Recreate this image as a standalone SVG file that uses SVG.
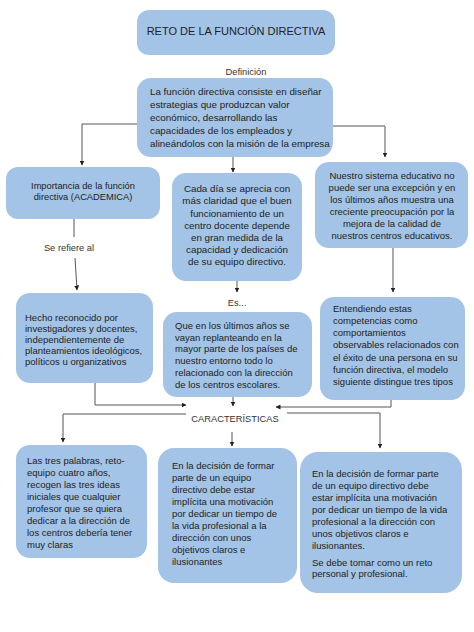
<svg xmlns="http://www.w3.org/2000/svg" width="474" height="632" viewBox="0 0 474 632">
<defs>
<marker id="ah" viewBox="0 0 10 10" refX="9" refY="5" markerWidth="5" markerHeight="5" orient="auto" markerUnits="userSpaceOnUse">
<path d="M0,0 L10,5 L0,10 z" fill="#222"/>
</marker>
<style>
.box{fill:#a3c4e6;stroke:none}
.t{font-family:"Liberation Sans",Arial,sans-serif;font-size:9.5px;fill:#222}
.c{text-anchor:middle}
.lbl{font-family:"Liberation Sans",Arial,sans-serif;font-size:9.3px;fill:#333;text-anchor:middle}
.ttl{font-family:"Liberation Sans",Arial,sans-serif;font-size:11px;fill:#222;text-anchor:middle}
.ln{fill:none;stroke:#555;stroke-width:1}
.ar{fill:none;stroke:#555;stroke-width:1;marker-end:url(#ah)}
</style>
</defs>
<rect width="474" height="632" fill="#fff"/>

<g id="connectors">
<polyline class="ar" points="137,124 82,124 82,165"/>
<polyline class="ar" points="333,126 385,126 385,157"/>
<line class="ar" x1="233" y1="157" x2="233" y2="172"/>
<line class="ln" x1="74" y1="219" x2="74" y2="237"/>
<line class="ar" x1="75" y1="258" x2="77" y2="290"/>
<line class="ar" x1="237" y1="281" x2="237" y2="292"/>
<line class="ar" x1="393" y1="248" x2="393" y2="292"/>
<polyline class="ar" points="95,383 95,405 186,405"/>
<line class="ar" x1="233" y1="397" x2="233" y2="406"/>
<polyline class="ar" points="391,400 391,407 276,407"/>
<polyline class="ar" points="186,414 63,414 63,442"/>
<line class="ar" x1="232" y1="432" x2="232" y2="446"/>
<polyline class="ar" points="287,413 380,413 380,448"/>
</g>

<g id="title">
<rect class="box" x="137" y="10" width="198" height="45" rx="12"/>
<text class="ttl" x="236" y="35">RETO DE LA FUNCIÓN DIRECTIVA</text>
</g>

<g id="lbl-definicion"><text class="lbl" x="246" y="75">Definición</text></g>

<g id="definicion">
<rect class="box" x="137" y="78" width="196" height="79" rx="14"/>
<text class="t" x="150" y="95" style="font-size:9.8px">La función directiva consiste en diseñar</text>
<text class="t" x="150" y="108" style="font-size:9.8px">estrategias que produzcan valor</text>
<text class="t" x="150" y="121" style="font-size:9.8px">económico, desarrollando las</text>
<text class="t" x="150" y="134" style="font-size:9.8px">capacidades de los empleados y</text>
<text class="t" x="150" y="147" style="font-size:9.8px">alineándolos con la misión de la empresa</text>
</g>

<g id="importancia">
<rect class="box" x="6" y="167" width="154" height="52" rx="12"/>
<text class="t c" x="83" y="188.5" style="font-size:9.3px">Importancia de la función</text>
<text class="t c" x="83" y="200" style="font-size:9.3px">directiva (ACADEMICA)</text>
</g>

<g id="lbl-serefiere"><text class="lbl" x="69" y="251">Se refiere al</text></g>

<g id="cada-dia">
<rect class="box" x="172" y="173" width="130" height="108" rx="14"/>
<text class="t c" x="237" y="191.5" style="font-size:9.8px">Cada día se aprecia con</text>
<text class="t c" x="237" y="204" style="font-size:9.8px">más claridad que el buen</text>
<text class="t c" x="237" y="216.5" style="font-size:9.8px">funcionamiento de un</text>
<text class="t c" x="237" y="228.5" style="font-size:9.8px">centro docente depende</text>
<text class="t c" x="237" y="240.5" style="font-size:9.8px">en gran medida de la</text>
<text class="t c" x="237" y="252.5" style="font-size:9.8px">capacidad y dedicación</text>
<text class="t c" x="237" y="264.5" style="font-size:9.8px">de su equipo directivo.</text>
</g>

<g id="nuestro">
<rect class="box" x="315" y="162" width="153" height="86" rx="14"/>
<text class="t c" x="392" y="178.5">Nuestro sistema educativo no</text>
<text class="t c" x="392" y="190.5">puede ser una excepción y en</text>
<text class="t c" x="392" y="202.5">los últimos años muestra una</text>
<text class="t c" x="392" y="215">creciente preocupación por la</text>
<text class="t c" x="392" y="227">mejora de la calidad de</text>
<text class="t c" x="392" y="239">nuestros centros educativos.</text>
</g>

<g id="lbl-es"><text class="lbl" x="237" y="306">Es...</text></g>

<g id="hecho">
<rect class="box" x="16" y="293" width="137" height="90" rx="14"/>
<text class="t" x="25" y="320.5">Hecho reconocido por</text>
<text class="t" x="25" y="332">investigadores y docentes,</text>
<text class="t" x="25" y="343">independientemente de</text>
<text class="t" x="25" y="354">planteamientos ideológicos,</text>
<text class="t" x="25" y="365">políticos u organizativos</text>
</g>

<g id="que-en">
<rect class="box" x="163" y="312" width="149" height="85" rx="14"/>
<text class="t" x="175" y="328.5">Que en los últimos años se</text>
<text class="t" x="175" y="340.5">vayan replanteando en la</text>
<text class="t" x="175" y="352">mayor parte de los países de</text>
<text class="t" x="175" y="364">nuestro entorno todo lo</text>
<text class="t" x="175" y="376">relacionado con la dirección</text>
<text class="t" x="175" y="388">de los centros escolares.</text>
</g>

<g id="entendiendo">
<rect class="box" x="320" y="297" width="145" height="103" rx="14"/>
<text class="t" x="333" y="311.5">Entendiendo estas</text>
<text class="t" x="333" y="323.5">competencias como</text>
<text class="t" x="333" y="336">comportamientos</text>
<text class="t" x="333" y="348">observables relacionados con</text>
<text class="t" x="333" y="360.5">el éxito de una persona en su</text>
<text class="t" x="333" y="373">función directiva, el modelo</text>
<text class="t" x="333" y="385">siguiente distingue tres tipos</text>
</g>

<g id="lbl-caracteristicas"><text class="lbl" x="235" y="421.5">CARACTERÍSTICAS</text></g>

<g id="las-tres">
<rect class="box" x="16" y="445" width="131" height="113" rx="14"/>
<text class="t" x="27" y="463.5">Las tres palabras, reto-</text>
<text class="t" x="27" y="475.5">equipo cuatro años,</text>
<text class="t" x="27" y="487.5">recogen las tres ideas</text>
<text class="t" x="27" y="500">iniciales que cualquier</text>
<text class="t" x="27" y="512">profesor que se quiera</text>
<text class="t" x="27" y="524">dedicar a la dirección de</text>
<text class="t" x="27" y="536">los centros debería tener</text>
<text class="t" x="27" y="548">muy claras</text>
</g>

<g id="decision1">
<rect class="box" x="158" y="448" width="139" height="135" rx="16"/>
<text class="t" x="172" y="468.5">En la decisión de formar</text>
<text class="t" x="172" y="480.5">parte de un equipo</text>
<text class="t" x="172" y="492.5">directivo debe estar</text>
<text class="t" x="172" y="504.5">implícita una motivación</text>
<text class="t" x="172" y="516.5">por dedicar un tiempo de</text>
<text class="t" x="172" y="528.5">la vida profesional a la</text>
<text class="t" x="172" y="540.5">dirección con unos</text>
<text class="t" x="172" y="552.5">objetivos claros e</text>
<text class="t" x="172" y="564.5">ilusionantes</text>
</g>

<g id="decision2">
<rect class="box" x="300" y="452" width="162" height="141" rx="18"/>
<text class="t" x="312" y="476.5">En la decisión de formar parte</text>
<text class="t" x="312" y="489">de un equipo directivo debe</text>
<text class="t" x="312" y="500.5">estar implícita una motivación</text>
<text class="t" x="312" y="512.5">por dedicar un tiempo de la vida</text>
<text class="t" x="312" y="525">profesional a la dirección con</text>
<text class="t" x="312" y="537">unos objetivos claros e</text>
<text class="t" x="312" y="548.5">ilusionantes.</text>
<text class="t" x="312" y="565.5">Se debe tomar como un reto</text>
<text class="t" x="312" y="577">personal y profesional.</text>
</g>
</svg>
